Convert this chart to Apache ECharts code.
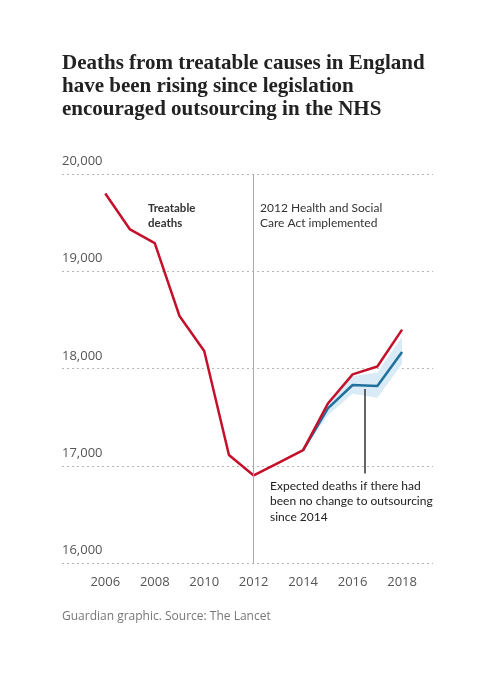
<!DOCTYPE html>
<html>
<head>
<meta charset="utf-8">
<script src="https://cdn.jsdelivr.net/npm/echarts@6/dist/echarts.min.js"></script>
<style>
  html, body { margin: 0; padding: 0; background: #fff; }
  #chart { width: 498px; height: 680px; }
</style>
</head>
<body>
<div id="chart"></div>
<script>
// treatable deaths, England
let years = [2006, 2007, 2008, 2009, 2010, 2011, 2012, 2013, 2014, 2015, 2016, 2017, 2018];
let treatable = [19800, 19430, 19290, 18540, 18180, 17110, 16900, 17030, 17160, 17640, 17940, 18020, 18400];

// expected deaths if no change to outsourcing since 2014
let expectedYears = [2014, 2015, 2016, 2017, 2018];
let expected = [17160, 17590, 17830, 17820, 18170];
let bandLower = [17160, 17520, 17740, 17700, 18050];
let bandUpper = [17160, 17660, 17920, 17960, 18330];

let xTicks = [2006, 2008, 2010, 2012, 2014, 2016, 2018];

let redData = [];
for (let i = 0; i < years.length; i++) {
    redData.push([years[i], treatable[i]]);
}
let blueData = [];
let bandData = [];
for (let i = 0; i < expectedYears.length; i++) {
    blueData.push([expectedYears[i], expected[i]]);
    bandData.push([expectedYears[i], bandLower[i], bandUpper[i]]);
}

let sans = '"Open Sans", sans-serif';
let noteFont = '12px Lato, sans-serif';

// band polygon: upper edge left to right, lower edge back
function renderBand(params, api) {
    if (params.dataIndex !== 0) return;
    let top = [];
    let bottom = [];
    for (let i = 0; i < bandData.length; i++) {
        top.push(api.coord([bandData[i][0], bandData[i][2]]));
        bottom.unshift(api.coord([bandData[i][0], bandData[i][1]]));
    }
    return {
        type: 'polygon',
        shape: { points: top.concat(bottom) },
        style: { fill: '#d9ebf6' },
        silent: true
    };
}

let option = {
    animation: false,
    title: {
        text: 'Deaths from treatable causes in England\nhave been rising since legislation\nencouraged outsourcing in the NHS',
        left: 62,
        top: 52,
        padding: 0,
        textStyle: {
            fontFamily: '"Liberation Serif", serif',
            fontWeight: 'bold',
            fontSize: 21,
            lineHeight: 23,
            color: '#222'
        }
    },
    grid: {
        left: 62,
        right: 65,
        top: 174,
        bottom: 117
    },
    xAxis: {
        type: 'value',
        min: 2004.25,
        max: 2019.25,
        axisLine: { show: false },
        axisTick: { show: false },
        splitLine: { show: false },
        axisLabel: {
            customValues: xTicks,
            formatter: function (v) {
                return String(v);
            },
            margin: 13,
            fontFamily: sans,
            fontSize: 13,
            color: '#555'
        }
    },
    yAxis: {
        type: 'value',
        min: 16000,
        max: 20000,
        interval: 1000,
        axisLine: { show: false },
        axisTick: { show: false },
        axisLabel: {
            inside: true,
            margin: 0,
            verticalAlign: 'bottom',
            padding: [0, 0, 6, 0],
            fontFamily: sans,
            fontSize: 13,
            color: '#555',
            formatter: function (v) {
                return v.toLocaleString('en-GB');
            }
        },
        splitLine: {
            lineStyle: { type: [2, 3], color: '#b5b5b5', width: 1 }
        }
    },
    series: [
        {
            name: 'band',
            type: 'custom',
            renderItem: renderBand,
            data: bandData,
            encode: { x: 0, y: [1, 2] },
            silent: true,
            z: 1
        },
        {
            name: 'Expected',
            type: 'line',
            data: blueData,
            symbol: 'none',
            lineStyle: { color: '#22709c', width: 2.5 },
            z: 3,
            markLine: {
                silent: true,
                symbol: 'none',
                label: { show: false },
                lineStyle: { color: '#333', width: 1.5, type: 'solid' },
                data: [
                    [{ coord: [2016.5, 17790] }, { coord: [2016.5, 16920] }]
                ]
            }
        },
        {
            name: 'Treatable deaths',
            type: 'line',
            data: redData,
            symbol: 'none',
            lineStyle: { color: '#c4102a', width: 2.5 },
            z: 4,
            markLine: {
                silent: true,
                symbol: 'none',
                label: { show: false },
                lineStyle: { color: '#aaa', width: 1, type: 'solid' },
                data: [{ xAxis: 2012 }]
            }
        }
    ],
    graphic: [
        {
            type: 'text',
            left: 148,
            top: 201,
            style: {
                text: 'Treatable\ndeaths',
                font: 'bold 11.5px Lato, sans-serif',
                lineHeight: 15,
                fill: '#333'
            }
        },
        {
            type: 'text',
            left: 260,
            top: 201,
            style: {
                text: '2012 Health and Social\nCare Act implemented',
                font: noteFont,
                lineHeight: 15,
                fill: '#333'
            }
        },
        {
            type: 'text',
            left: 270,
            top: 478,
            style: {
                text: 'Expected deaths if there had\nbeen no change to outsourcing\nsince 2014',
                font: noteFont,
                lineHeight: 15.5,
                fill: '#222'
            }
        },
        {
            type: 'text',
            left: 62,
            top: 611,
            style: {
                text: 'Guardian graphic. Source: The Lancet',
                font: '12px "Open Sans", sans-serif',
                fill: '#777'
            }
        }
    ]
};

let chart = echarts.init(document.getElementById('chart'));
chart.setOption(option);
</script>
</body>
</html>
